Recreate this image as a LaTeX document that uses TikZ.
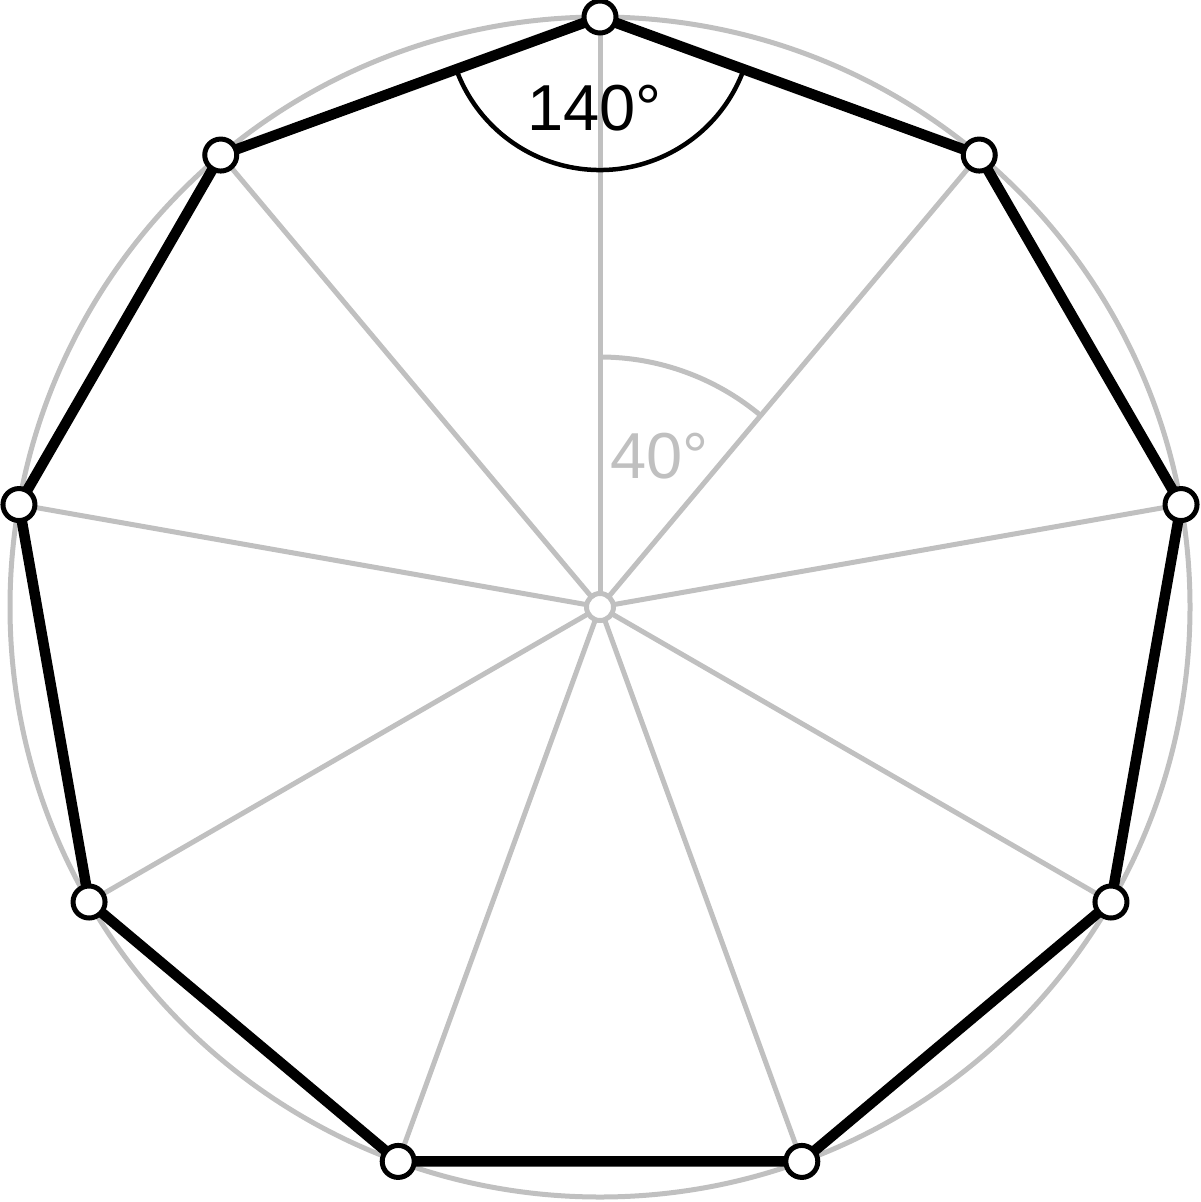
\documentclass[tikz,border=0pt]{standalone}
\usepackage{fontspec}
\setmainfont{Liberation Sans}
\definecolor{lgray}{RGB}{192,192,192}
\begin{document}
\begin{tikzpicture}[x=1pt,y=1pt,
  spoke/.style={draw=lgray,line width=5pt},
  edge/.style={draw=black,line width=10.5pt,line join=round},
  vtx/.style={circle,draw=black,fill=white,line width=5pt,minimum size=32pt,inner sep=0pt},
  ctrnode/.style={circle,draw=lgray,fill=white,line width=5pt,minimum size=27pt,inner sep=0pt},
  lbl/.style={inner sep=0pt,font=\fontsize{65}{65}\selectfont}]
\useasboundingbox (0,0) rectangle (1200,-1202);
\coordinate (c) at (600,-607);
\foreach \i in {0,...,8}
  \coordinate (p\i) at ({600+590*cos(90-40*\i)},{-607+590*sin(90-40*\i)});
% circumscribed circle
\draw[spoke] (c) circle[radius=590];
% spokes
\foreach \i in {0,...,8} \draw[spoke] (c) -- (p\i);
% central angle arc and label
\draw[spoke] (c) ++(90:250) arc[start angle=90,end angle=50,radius=250];
\node[lbl,text=lgray] (a40) at (659.5,-456.5) {40°};
% polygon
\draw[edge] (p0) -- (p1) -- (p2) -- (p3) -- (p4) -- (p5) -- (p6) -- (p7) -- (p8) -- cycle;
% interior angle arc and label
\draw[black,line width=4.5pt] (p0) ++(-20:153) arc[start angle=-20,end angle=-160,radius=153];
\node[lbl] (a140) at (594.5,-108.5) {140°};
% vertex markers
\foreach \i in {0,...,8} \node[vtx] (v\i) at (p\i) {};
\node[ctrnode] (ctr) at (c) {};
\end{tikzpicture}
\end{document}
